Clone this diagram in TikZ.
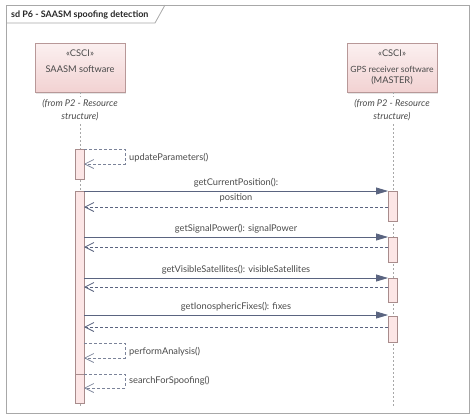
\documentclass[tikz,border=0pt]{standalone}
\usepackage{fontspec}
\setmainfont{Lato}
\usetikzlibrary{arrows.meta,shadows}
\definecolor{frameC}{HTML}{A8A8A8}
\definecolor{txtC}{HTML}{4A4A4A}
\definecolor{arrC}{HTML}{5A6480}
\definecolor{boxB}{HTML}{B89898}
\definecolor{boxT}{HTML}{FBF0F0}
\definecolor{boxD}{HTML}{F2D2D2}
\definecolor{actF}{HTML}{FCE6E6}
\definecolor{actB}{HTML}{A88C8C}
\begin{document}
\begin{tikzpicture}[x=1bp,y=-1bp,
  txt/.style={font=\fontsize{9.3}{11}\selectfont, text=txtC, inner sep=0pt},
  itxt/.style={font=\fontsize{9.3}{11}\selectfont\itshape, text=txtC, inner sep=0pt},
  lifebox/.style={draw=boxB, line width=0.8bp, top color=boxT, bottom color=boxD, minimum width=90bp, minimum height=49bp, inner sep=0pt, drop shadow={shadow xshift=1.2bp, shadow yshift=-1.5bp, opacity=0.2}},
  lifeline/.style={draw=frameC, line width=0.8bp, dash pattern=on 2bp off 2bp},
  actbar/.style={draw=actB, fill=actF, line width=0.7bp},
  callmsg/.style={draw=arrC, line width=0.8bp, -{Triangle[length=12bp,width=7bp]}},
  retmsg/.style={draw=arrC, line width=0.8bp, dash pattern=on 3bp off 2bp, -{Straight Barb[length=9bp,width=9bp]}},
  selfmsg/.style={draw=arrC!80, line width=0.7bp, dash pattern=on 3bp off 2bp, -{Straight Barb[length=9bp,width=9bp]}},
]
\useasboundingbox (0,0) rectangle (474,418);
% frame
\draw[frameC, line width=0.8bp] (6,5) rectangle (469,413);
\draw[frameC, line width=0.8bp] (6,23) -- (155,23) -- (165,5);
\node[inner sep=0pt, anchor=west, font=\fontsize{9}{10}\selectfont\bfseries, text=black!85] (title) at (11,14.5) {sd P6 - SAASM spoofing detection};

% lifeline boxes
\node[lifebox] (saasm) at (80,67.5) {};
\node[txt] (saasmS) at (80,53) {«CSCI»};
\node[txt] (saasmN) at (80,69) {SAASM software};
\node[lifebox] (gps) at (392,67.5) {};
\node[txt] (gpsS) at (392,53) {«CSCI»};
\node[txt, font=\fontsize{8.6}{10}\selectfont] (gpsN) at (392,69) {GPS receiver software};
\node[txt] (gpsM) at (392,81) {(MASTER)};

\node[itxt] (fromL1) at (80,104) {(from P2 - Resource};
\node[itxt] (fromL2) at (80,117) {structure)};
\node[itxt] (fromR1) at (392,104) {(from P2 - Resource};
\node[itxt] (fromR2) at (392,117) {structure)};

% lifelines
\coordinate (llA) at (80,92);
\coordinate (llAe) at (80,406);
\coordinate (llB) at (393,92);
\coordinate (llBe) at (393,406);
\path[lifeline] (llA) -- (80,97);
\path[lifeline] (80,124) -- (llAe);
\path[lifeline] (llB) -- (393,97);
\path[lifeline] (393,124) -- (llBe);

% activation bars left
\draw[actbar] (75,149) rectangle (84,179);
\draw[actbar] (75,191) rectangle (84,403);
\draw[actB, line width=0.7bp] (75,374) -- (84,374);
% activation bars right
\draw[actbar] (388,191) rectangle (397,221);
\draw[actbar] (388,237) rectangle (397,262);
\draw[actbar] (388,278) rectangle (397,302);
\draw[actbar] (388,316) rectangle (397,342);

% self message updateParameters
\coordinate (u1) at (84,149);
\coordinate (u2) at (125,149);
\coordinate (u3) at (125,164);
\coordinate (u4) at (84,164);
\draw[selfmsg] (u1) -- (u2) -- (u3) -- (u4);
\node[txt, anchor=west] (lu) at (129,158) {updateParameters()};

% getCurrentPosition
\coordinate (c1s) at (84,191);
\coordinate (c1e) at (388,191);
\draw[callmsg] (c1s) -- (c1e);
\node[txt] (lc1) at (236,183) {getCurrentPosition():};
\node[txt] (lc1b) at (236,197.5) {position};
\coordinate (r1s) at (388,207);
\coordinate (r1e) at (84,207);
\draw[retmsg] (r1s) -- (r1e);

% getSignalPower
\coordinate (c2s) at (84,237);
\coordinate (c2e) at (388,237);
\draw[callmsg] (c2s) -- (c2e);
\node[txt] (lc2) at (236,229) {getSignalPower(): signalPower};
\coordinate (r2s) at (388,247);
\coordinate (r2e) at (84,247);
\draw[retmsg] (r2s) -- (r2e);

% getVisibleSatellites
\coordinate (c3s) at (84,278);
\coordinate (c3e) at (388,278);
\draw[callmsg] (c3s) -- (c3e);
\node[txt] (lc3) at (236,270) {getVisibleSatellites(): visibleSatellites};
\coordinate (r3s) at (388,287);
\coordinate (r3e) at (84,287);
\draw[retmsg] (r3s) -- (r3e);

% getIonosphericFixes
\coordinate (c4s) at (84,315);
\coordinate (c4e) at (388,315);
\draw[callmsg] (c4s) -- (c4e);
\node[txt] (lc4) at (236,307) {getIonosphericFixes(): fixes};
\coordinate (r4s) at (388,327);
\coordinate (r4e) at (84,327);
\draw[retmsg] (r4s) -- (r4e);

% performAnalysis
\coordinate (p1) at (84,343);
\coordinate (p2) at (125,343);
\coordinate (p3) at (125,358);
\coordinate (p4) at (84,358);
\draw[selfmsg] (p1) -- (p2) -- (p3) -- (p4);
\node[txt, anchor=west] (lp) at (129,352) {performAnalysis()};

% searchForSpoofing
\coordinate (s1) at (84,374);
\coordinate (s2) at (125,374);
\coordinate (s3) at (125,388);
\coordinate (s4) at (84,388);
\draw[selfmsg] (s1) -- (s2) -- (s3) -- (s4);
\node[txt, anchor=west] (ls) at (129,381) {searchForSpoofing()};
\end{tikzpicture}
\end{document}
